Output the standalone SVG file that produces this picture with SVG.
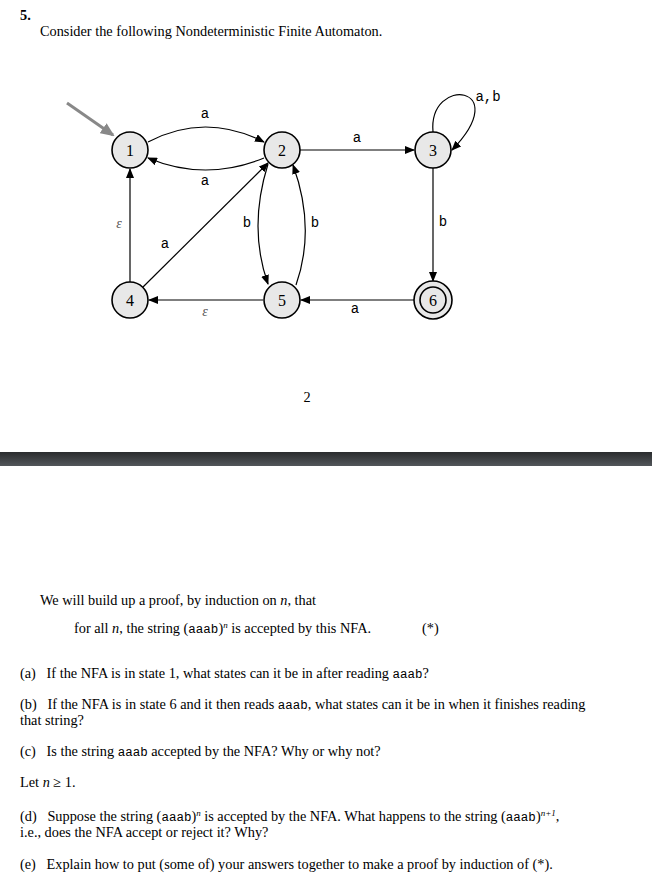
<svg xmlns="http://www.w3.org/2000/svg" width="652" height="884" viewBox="0 0 652 884">
<style>
.st{fill:#e8e8e8;stroke:#000;stroke-width:1.6}
.nl{font-family:"Liberation Serif",serif;font-size:16px;text-anchor:middle}
.el{font-family:"Liberation Mono",monospace;font-size:14px;text-anchor:middle}
.ep{font-family:"Liberation Serif",serif;font-style:italic;font-size:14px;fill:#555;text-anchor:middle}
.e{fill:none;stroke:#000;stroke-width:1.2;marker-end:url(#ah)}
.t{font-family:"Liberation Serif",serif;font-size:14.3px;white-space:pre}
.m{font-family:"Liberation Mono",monospace;font-size:12.5px}
</style>
<defs>
<marker id="ah" markerWidth="10" markerHeight="8" refX="9" refY="4" orient="auto" markerUnits="userSpaceOnUse"><path d="M0,0 L10,4 L0,8 z"/></marker>
<marker id="ag" markerWidth="14" markerHeight="12" refX="12" refY="6" orient="auto" markerUnits="userSpaceOnUse"><path d="M0,0 L14,6 L0,12 z" fill="#888"/></marker>
<linearGradient id="bg" x1="0" y1="0" x2="0" y2="1"><stop offset="0" stop-color="#2a2c2e"/><stop offset="1" stop-color="#52565a"/></linearGradient>
</defs>
<rect width="652" height="884" fill="#fff"/>
<text x="20" y="20" class="t" font-weight="bold">5.</text>
<text x="40" y="36" class="t">Consider the following Nondeterministic Finite Automaton.</text>
<g id="connectors">
<line x1="67" y1="103" x2="113" y2="135" stroke="#888" stroke-width="3" marker-end="url(#ag)"/>
<path class="e" d="M148,142 Q205,112 264,142"/>
<path class="e" d="M264,158 Q205,182 148,158"/>
<line class="e" x1="300" y1="150" x2="414" y2="150"/>
<path class="e" d="M433,132 C428,75 515,85 452,150"/>
<line class="e" x1="433" y1="168" x2="433" y2="281"/>
<line class="e" x1="414" y1="300" x2="301" y2="300"/>
<line class="e" x1="263" y1="300" x2="149" y2="300"/>
<line class="e" x1="130" y1="282" x2="130" y2="169"/>
<line class="e" x1="143" y1="287" x2="268" y2="163"/>
<path class="e" d="M268,164 Q248,228 268,284"/>
<path class="e" d="M296,285 Q316,228 293,165"/>
</g>
<g id="labels">
<text x="205" y="118" class="el">a</text>
<text x="205" y="185" class="el">a</text>
<text x="357" y="142" class="el">a</text>
<text x="488" y="101" class="el">a,b</text>
<text x="443" y="226" class="el">b</text>
<text x="355" y="313" class="el">a</text>
<text x="205" y="316" class="ep">ε</text>
<text x="119" y="228" class="ep">ε</text>
<text x="165" y="248" class="el">a</text>
<text x="247" y="227" class="el">b</text>
<text x="315" y="227" class="el">b</text>
</g>
<g id="n1"><circle class="st" cx="130" cy="150" r="18"/><text x="130" y="156" class="nl">1</text></g>
<g id="n2"><circle class="st" cx="282" cy="150" r="18"/><text x="282" y="156" class="nl">2</text></g>
<g id="n3"><circle class="st" cx="433" cy="150" r="18"/><text x="433" y="156" class="nl">3</text></g>
<g id="n4"><circle class="st" cx="130" cy="300" r="18"/><text x="130" y="306" class="nl">4</text></g>
<g id="n5"><circle class="st" cx="282" cy="300" r="18"/><text x="282" y="306" class="nl">5</text></g>
<g id="n6"><circle class="st" cx="433" cy="300" r="19"/><circle class="st" cx="433" cy="300" r="13"/><text x="433" y="306" class="nl">6</text></g>
<text x="307" y="402" class="t" text-anchor="middle">2</text>
<rect x="0" y="452" width="652" height="14" fill="url(#bg)"/>
<text x="40" y="605" class="t">We will build up a proof, by induction on <tspan font-style="italic">n</tspan>, that</text>
<text x="74" y="633" class="t">for all <tspan font-style="italic">n</tspan>, the string (<tspan class="m">aaab</tspan>)<tspan font-style="italic" font-size="9" dy="-5">n</tspan><tspan dy="5"> is accepted by this NFA.</tspan></text>
<text x="422" y="633" class="t">(*)</text>
<text x="20" y="678" class="t">(a)   If the NFA is in state 1, what states can it be in after reading <tspan class="m">aaab</tspan>?</text>
<text x="20" y="709" class="t">(b)   If the NFA is in state 6 and it then reads <tspan class="m">aaab</tspan>, what states can it be in when it finishes reading</text>
<text x="20" y="725" class="t">that string?</text>
<text x="20" y="756" class="t">(c)   Is the string <tspan class="m">aaab</tspan> accepted by the NFA? Why or why not?</text>
<text x="20" y="787" class="t">Let <tspan font-style="italic">n</tspan> ≥ 1.</text>
<text x="20" y="821" class="t">(d)   Suppose the string (<tspan class="m">aaab</tspan>)<tspan font-style="italic" font-size="9" dy="-5">n</tspan><tspan dy="5"> is accepted by the NFA. What happens to the string (</tspan><tspan class="m">aaab</tspan>)<tspan font-style="italic" font-size="9" dy="-5">n+1</tspan><tspan dy="5">,</tspan></text>
<text x="20" y="837" class="t">i.e., does the NFA accept or reject it? Why?</text>
<text x="20" y="869" class="t">(e)   Explain how to put (some of) your answers together to make a proof by induction of (*).</text>
</svg>
